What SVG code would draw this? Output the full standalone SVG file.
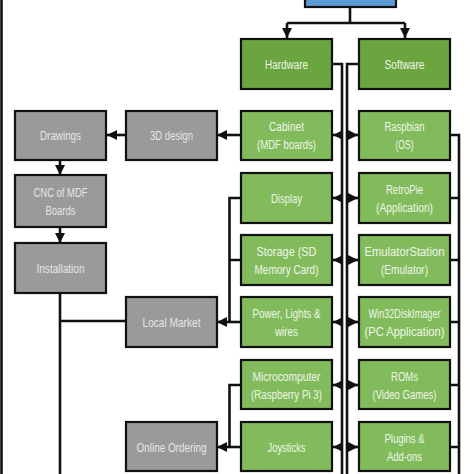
<svg xmlns="http://www.w3.org/2000/svg" width="474" height="474" viewBox="0 0 474 474">
<style>
.box{stroke:#111;stroke-width:2.2}
.top{fill:#5b9bd5}
.g1{fill:#6ba540}
.g2{fill:#82bb5c}
.gr{fill:#9a9a9a}
.t{font-family:"Liberation Sans",Arial,sans-serif;font-size:12.5px;text-anchor:middle;fill:#eef6e8}
.tg{fill:#e6e6e6}
.c{fill:none;stroke:#111;stroke-width:2.6}
</style>
<defs>
<marker id="ah" viewBox="0 0 10 10" refX="10" refY="5" markerWidth="10" markerHeight="10" markerUnits="userSpaceOnUse" orient="auto">
<path d="M0,0 L10,5 L0,10 Z" fill="#111"/>
</marker>
</defs>
<rect width="474" height="474" fill="#fff"/>
<g id="connectors">
<line class="c" x1="1.5" y1="0" x2="1.5" y2="474"/>
<path class="c" d="M350,7 V23 M287,23 H405"/>
<path class="c" d="M287,23 V38" marker-end="url(#ah)"/>
<path class="c" d="M405,23 V38" marker-end="url(#ah)"/>
<path class="c" d="M332,64 H342 V474"/>
<path class="c" d="M359,64 H347 V474"/>
<path class="c" d="M342,135 H333" marker-end="url(#ah)"/>
<path class="c" d="M342,198 H333" marker-end="url(#ah)"/>
<path class="c" d="M342,260 H333" marker-end="url(#ah)"/>
<path class="c" d="M342,322 H333" marker-end="url(#ah)"/>
<path class="c" d="M342,385 H333" marker-end="url(#ah)"/>
<path class="c" d="M342,447 H333" marker-end="url(#ah)"/>
<path class="c" d="M347,135 H358" marker-end="url(#ah)"/>
<path class="c" d="M347,198 H358" marker-end="url(#ah)"/>
<path class="c" d="M347,260 H358" marker-end="url(#ah)"/>
<path class="c" d="M347,322 H358" marker-end="url(#ah)"/>
<path class="c" d="M347,385 H358" marker-end="url(#ah)"/>
<path class="c" d="M347,447 H358" marker-end="url(#ah)"/>
<path class="c" d="M450,135 H459 V474 M450,198 H459 M450,260 H459 M450,322 H459 M450,385 H459 M450,447 H459"/>
<path class="c" d="M241,135 H217" marker-end="url(#ah)"/>
<path class="c" d="M126,135 H107" marker-end="url(#ah)"/>
<path class="c" d="M60,160 V175" marker-end="url(#ah)"/>
<path class="c" d="M60,227 V243" marker-end="url(#ah)"/>
<path class="c" d="M60,293 V474 M60,321 H126"/>
<path class="c" d="M241,198 H229.5 V322 M241,260 H229.5"/>
<path class="c" d="M241,322 H217" marker-end="url(#ah)"/>
<path class="c" d="M241,385 H229.5 V447"/>
<path class="c" d="M241,447 H217" marker-end="url(#ah)"/>
</g>
<g id="top"><rect class="box top" x="305" y="-20" width="91" height="27"/></g>
<g id="hardware"><rect class="box g1" x="241" y="39" width="91" height="50"/><text class="t" x="286.5" y="69" textLength="43" lengthAdjust="spacingAndGlyphs">Hardware</text></g>
<g id="software"><rect class="box g1" x="359" y="39" width="91" height="50"/><text class="t" x="404.5" y="69" textLength="40" lengthAdjust="spacingAndGlyphs">Software</text></g>
<g id="cabinet"><rect class="box g2" x="241" y="111" width="91" height="49"/><text class="t" x="286.5" y="131" textLength="35" lengthAdjust="spacingAndGlyphs">Cabinet</text><text class="t" x="286.5" y="149" textLength="59" lengthAdjust="spacingAndGlyphs">(MDF boards)</text></g>
<g id="raspbian"><rect class="box g2" x="359" y="111" width="91" height="49"/><text class="t" x="404.5" y="131" textLength="40" lengthAdjust="spacingAndGlyphs">Raspbian</text><text class="t" x="404.5" y="149" textLength="18" lengthAdjust="spacingAndGlyphs">(OS)</text></g>
<g id="display"><rect class="box g2" x="241" y="173" width="91" height="50"/><text class="t" x="286.5" y="203" textLength="31" lengthAdjust="spacingAndGlyphs">Display</text></g>
<g id="retropie"><rect class="box g2" x="359" y="173" width="91" height="50"/><text class="t" x="404.5" y="194" textLength="37" lengthAdjust="spacingAndGlyphs">RetroPie</text><text class="t" x="404.5" y="212" textLength="57" lengthAdjust="spacingAndGlyphs">(Application)</text></g>
<g id="storage"><rect class="box g2" x="241" y="235" width="91" height="50"/><text class="t" x="286.5" y="256" textLength="60" lengthAdjust="spacingAndGlyphs">Storage (SD</text><text class="t" x="286.5" y="274" textLength="64" lengthAdjust="spacingAndGlyphs">Memory Card)</text></g>
<g id="emulatorstation"><rect class="box g2" x="359" y="235" width="91" height="50"/><text class="t" x="404.5" y="256" textLength="80" lengthAdjust="spacingAndGlyphs">EmulatorStation</text><text class="t" x="404.5" y="274" textLength="47" lengthAdjust="spacingAndGlyphs">(Emulator)</text></g>
<g id="power"><rect class="box g2" x="241" y="297" width="91" height="50"/><text class="t" x="286.5" y="318" textLength="68" lengthAdjust="spacingAndGlyphs">Power, Lights &amp;</text><text class="t" x="286.5" y="336" textLength="23" lengthAdjust="spacingAndGlyphs">wires</text></g>
<g id="win32"><rect class="box g2" x="359" y="297" width="91" height="50"/><text class="t" x="404.5" y="318" textLength="72" lengthAdjust="spacingAndGlyphs">Win32DiskImager</text><text class="t" x="404.5" y="336" textLength="80" lengthAdjust="spacingAndGlyphs">(PC Application)</text></g>
<g id="microcomputer"><rect class="box g2" x="241" y="360" width="91" height="49"/><text class="t" x="286.5" y="381" textLength="68" lengthAdjust="spacingAndGlyphs">Microcomputer</text><text class="t" x="286.5" y="399" textLength="71" lengthAdjust="spacingAndGlyphs">(Raspberry Pi 3)</text></g>
<g id="roms"><rect class="box g2" x="359" y="360" width="91" height="49"/><text class="t" x="404.5" y="381" textLength="27" lengthAdjust="spacingAndGlyphs">ROMs</text><text class="t" x="404.5" y="399" textLength="64" lengthAdjust="spacingAndGlyphs">(Video Games)</text></g>
<g id="joysticks"><rect class="box g2" x="241" y="422" width="91" height="49"/><text class="t" x="286.5" y="452" textLength="38" lengthAdjust="spacingAndGlyphs">Joysticks</text></g>
<g id="plugins"><rect class="box g2" x="359" y="422" width="91" height="49"/><text class="t" x="404.5" y="443" textLength="40" lengthAdjust="spacingAndGlyphs">Plugins &amp;</text><text class="t" x="404.5" y="461" textLength="35" lengthAdjust="spacingAndGlyphs">Add-ons</text></g>
<g id="drawings"><rect class="box gr" x="15" y="111" width="91" height="49"/><text class="t tg" x="60.5" y="140" textLength="41" lengthAdjust="spacingAndGlyphs">Drawings</text></g>
<g id="design3d"><rect class="box gr" x="126" y="111" width="91" height="49"/><text class="t tg" x="171.5" y="140" textLength="43" lengthAdjust="spacingAndGlyphs">3D design</text></g>
<g id="cnc"><rect class="box gr" x="15" y="175" width="91" height="52"/><text class="t tg" x="60.5" y="197" textLength="54" lengthAdjust="spacingAndGlyphs">CNC of MDF</text><text class="t tg" x="60.5" y="215" textLength="30" lengthAdjust="spacingAndGlyphs">Boards</text></g>
<g id="installation"><rect class="box gr" x="15" y="243" width="91" height="50"/><text class="t tg" x="60.5" y="273" textLength="48" lengthAdjust="spacingAndGlyphs">Installation</text></g>
<g id="localmarket"><rect class="box gr" x="126" y="297" width="91" height="50"/><text class="t tg" x="171.5" y="327" textLength="58" lengthAdjust="spacingAndGlyphs">Local Market</text></g>
<g id="onlineordering"><rect class="box gr" x="126" y="422" width="91" height="49"/><text class="t tg" x="171.5" y="452" textLength="70" lengthAdjust="spacingAndGlyphs">Online Ordering</text></g>
</svg>
